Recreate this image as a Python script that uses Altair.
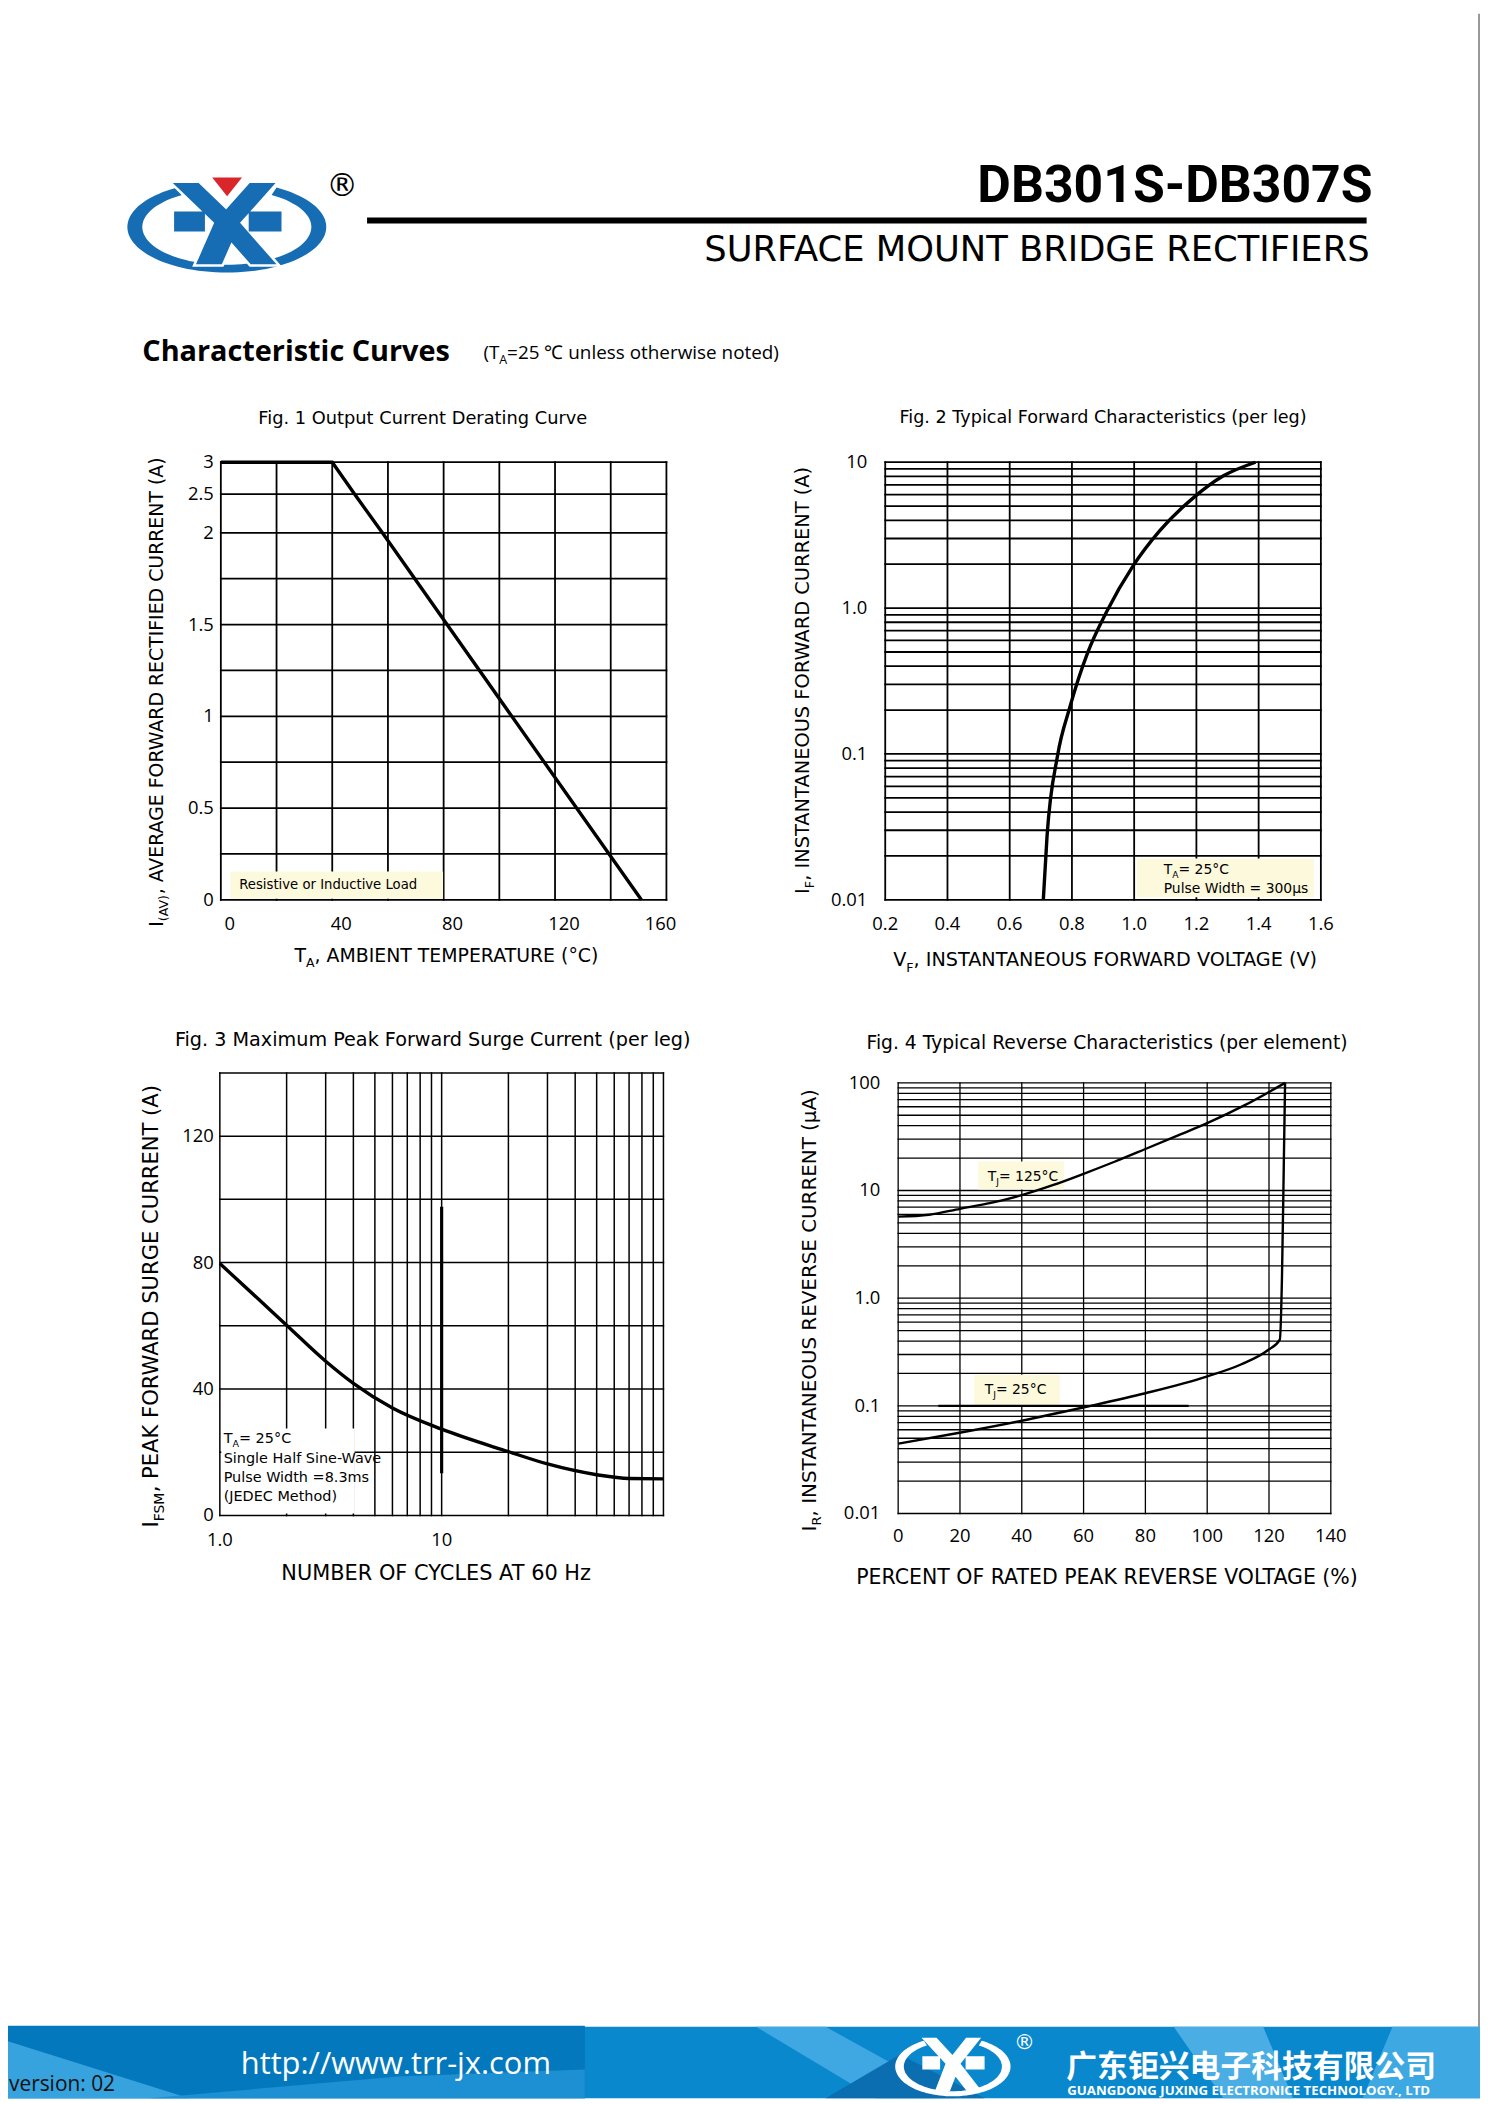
import math
import altair as alt
import pandas as pd

OFF = 8
FONT = "Open Sans"
DV = "DejaVu Sans"
CJK = "Noto Sans CJK SC"
ONE = pd.DataFrame({"k": [0]})

# ------------------------------------------------------------------ data
# Fig. 1  Output current derating curve
f1_temp = [0, 40, 48, 58, 151]
f1_current = [3, 3, 2.5, 2, 0]
f1_xgrid = [0, 20, 40, 60, 80, 100, 120, 140, 160]
f1_ygrid = [0, 0.25, 0.5, 0.75, 1, 1.25, 1.5, 1.75, 2, 2.5, 3]
f1_xticks = [0, 40, 80, 120, 160]
f1_xlabels = ["0", "40", "80", "120", "160"]
f1_yticks = [0, 0.5, 1, 1.5, 2, 2.5, 3]
f1_ylabels = ["0", "0.5", "1", "1.5", "2", "2.5", "3"]

# Fig. 2  Typical forward characteristics
f2_vf = [0.708, 0.72, 0.754, 0.793, 0.851, 0.911, 0.996, 1.081, 1.19, 1.287, 1.39]
f2_if = [0.01, 0.0273, 0.098, 0.208, 0.497, 0.94, 1.94, 3.37, 5.7, 8.07, 10]
f2_xgrid = [0.2, 0.4, 0.6, 0.8, 1.0, 1.2, 1.4, 1.6]
f2_xlabels = ["0.2", "0.4", "0.6", "0.8", "1.0", "1.2", "1.4", "1.6"]
f2_decades = [0.01, 0.1, 1]
f2_top = 10
f2_yticks = [0.01, 0.1, 1, 10]
f2_ylabels = ["0.01", "0.1", "1.0", "10"]

log_minor = [1, 2, 3, 4, 5, 6, 7, 8, 9]

# Fig. 3  Maximum peak forward surge current
f3_cycles = [1, 1.5, 2, 3, 4, 6, 10, 20, 30, 50, 70, 100]
f3_ifsm = [79.7, 68.3, 60.2, 48.8, 41.8, 34.0, 27.3, 20.2, 16.3, 12.9, 11.7, 11.6]
f3_xgrid = [1, 2, 3, 4, 5, 6, 7, 8, 9, 10, 20, 30, 40, 50, 60, 70, 80, 90, 100]
f3_ygrid = [0, 20, 40, 60, 80, 100, 120, 140]
f3_xticks = [1, 10]
f3_xlabels = ["1.0", "10"]
f3_yticks = [0, 40, 80, 120]
f3_ylabels = ["0", "40", "80", "120"]

# Fig. 4  Typical reverse characteristics
f4_pct_125 = [0, 10, 20, 30, 40, 50, 60, 70, 80, 90, 100, 112, 125.2]
f4_ir_125 = [5.72, 5.96, 6.76, 7.67, 9.06, 11.2, 14.3, 18.5, 24.3, 32.0, 42.2, 61.7, 100]
f4_pct_25 = [0, 20.3, 39.6, 60.2, 80, 99.8, 110.9, 119.6, 123.5, 124.2, 124.8, 125.2]
f4_ir_25 = [0.0446, 0.0565, 0.0723, 0.097, 0.131, 0.187, 0.242, 0.328, 0.412, 1.58, 18.4, 100]
f4_xgrid = [0, 20, 40, 60, 80, 100, 120, 140]
f4_xlabels = ["0", "20", "40", "60", "80", "100", "120", "140"]
f4_decades = [0.01, 0.1, 1, 10]
f4_top = 100
f4_yticks = [0.01, 0.1, 1, 10, 100]
f4_ylabels = ["0.01", "0.1", "1.0", "10", "100"]

# ------------------------------------------------------------------ helpers
W_OS = {' ': 0.26, 'A': 0.633, 'C': 0.631, 'E': 0.561, 'F': 0.518, 'I': 0.279, 'J': 0.267,
        'M': 0.903, 'R': 0.608, 'S': 0.536, 'T': 0.539, 'V': 0.595, '(': 0.297, ')': 0.297,
        ',': 0.25, '=': 0.571, '°': 0.418, '.': 0.27}
W_DV = {' ': 0.318, 'A': 0.684, 'C': 0.698, 'E': 0.632, 'F': 0.575, 'I': 0.295, 'J': 0.295,
        'M': 0.863, 'R': 0.695, 'S': 0.635, 'T': 0.611, 'V': 0.684, '(': 0.39, ')': 0.39,
        ',': 0.318, '=': 0.838, '°': 0.5, '.': 0.318}


def tw(s, size, font):
    tab = W_DV if font == DV else W_OS
    dflt = 0.636 if font == DV else 0.57
    return sum(tab.get(c, dflt) for c in s) * size


def pv(v):
    return alt.value(v - OFF)


def label(text, x, y, size, align="left", baseline="alphabetic", font=FONT,
          weight="normal", color="black", angle=0):
    kw = dict(text=text, align=align, baseline=baseline, font=font, fontSize=size,
              fontWeight=weight, color=color)
    if angle:
        kw["angle"] = angle
    return alt.Chart(ONE).mark_text(**kw).encode(x=pv(x), y=pv(y))


def rich(parts, size, x, y, angle=0, font=DV, color="black", base_dy=0.0,
         sub_scale=0.66, sub_drop=0.28):
    out = []
    adv = 0.0
    for text, sub in parts:
        s = size * sub_scale if sub else size
        dy = base_dy + (size * sub_drop if sub else 0)
        kw = dict(text=text, align="left", baseline="alphabetic", font=font, fontSize=s,
                  color=color, dx=adv, dy=dy)
        if angle:
            kw["angle"] = angle
        out.append(alt.Chart(ONE).mark_text(**kw).encode(x=x, y=y))
        adv += tw(text, s, font)
    return out


def xscale(dom, l, r, typ="linear"):
    kw = dict(type=typ, domain=dom, range=[l - OFF, r - OFF], nice=False)
    if typ == "linear":
        kw["zero"] = False
    return alt.Scale(**kw)


def yscale(dom, rng, typ="linear"):
    kw = dict(type=typ, domain=dom, range=[v - OFF for v in rng], nice=False)
    if typ == "linear":
        kw["zero"] = False
    return alt.Scale(**kw)


def grids(X, Y, xv, yv, xdom, ydom, width):
    vdf = pd.DataFrame({"v": xv, "lo": [ydom[0]] * len(xv), "hi": [ydom[-1]] * len(xv)})
    hdf = pd.DataFrame({"v": yv, "lo": [xdom[0]] * len(yv), "hi": [xdom[-1]] * len(yv)})
    v = alt.Chart(vdf).mark_rule(color="black", strokeWidth=width, strokeCap="square").encode(
        x=alt.X("v:Q", scale=X, axis=None), y=alt.Y("lo:Q", scale=Y, axis=None), y2="hi:Q")
    h = alt.Chart(hdf).mark_rule(color="black", strokeWidth=width, strokeCap="square").encode(
        y=alt.Y("v:Q", scale=Y, axis=None), x=alt.X("lo:Q", scale=X, axis=None), x2="hi:Q")
    return [v, h]


def xlabels(X, vals, labs, ypage, size=18.5, dx=0):
    df = pd.DataFrame({"v": vals, "t": labs})
    return alt.Chart(df).mark_text(font=FONT, fontSize=size, align="center", baseline="middle",
                                   dx=dx).encode(
        x=alt.X("v:Q", scale=X, axis=None), y=pv(ypage), text="t:N")


def ylabels(Y, vals, labs, xpage, size=18.5):
    df = pd.DataFrame({"v": vals, "t": labs})
    return alt.Chart(df).mark_text(font=FONT, fontSize=size, align="right", baseline="middle").encode(
        y=alt.Y("v:Q", scale=Y, axis=None), x=pv(xpage), text="t:N")


def curve(X, Y, xs_, ys_, width, interp="monotone"):
    df = pd.DataFrame({"x": xs_, "y": ys_})
    return alt.Chart(df).mark_line(color="black", strokeWidth=width, interpolate=interp).encode(
        x=alt.X("x:Q", scale=X, axis=None), y=alt.Y("y:Q", scale=Y, axis=None))


def dx_(X, v):
    return alt.XDatum(v, type="quantitative", scale=X, axis=None)


def dy_(Y, v):
    return alt.YDatum(v, type="quantitative", scale=Y, axis=None)


def box(X, Y, x0, x1, y0, y1, color="#fdf9dc"):
    return alt.Chart(ONE).mark_rect(color=color).encode(
        x=dx_(X, x0), x2=alt.X2Datum(x1), y=dy_(Y, y0), y2=alt.Y2Datum(y1))


def note(X, Y, x, y, text, size, font=DV):
    return alt.Chart(ONE).mark_text(text=text, font=font, fontSize=size, align="left",
                                    baseline="middle").encode(x=dx_(X, x), y=dy_(Y, y))


def logticks(decades, top):
    return [m * d for d in decades for m in log_minor] + [top]


# ------------------------------------------------------------------ shapes
def orient(pts):
    a = 0.0
    for i in range(len(pts)):
        x1, y1 = pts[i]
        x2, y2 = pts[(i + 1) % len(pts)]
        a += x1 * y2 - x2 * y1
    return pts if a > 0 else pts[::-1]


def path(pts):
    pts = orient(pts)
    return "M" + "L".join(f"{x - OFF:.1f},{y - OFF:.1f}" for x, y in pts) + "Z"


def shape(p, fill, stroke=None, sw=0):
    kw = dict(shape=p, size=4, filled=True, fill=fill, opacity=1, strokeWidth=sw)
    if stroke:
        kw["stroke"] = stroke
    return alt.Chart(ONE).mark_point(**kw).encode(x=alt.value(0), y=alt.value(0))


def arc(rx, ry, a0, a1, n=90):
    pts = []
    for i in range(n + 1):
        a = math.radians(a0 + (a1 - a0) * i / n)
        pts.append((rx * math.cos(a), ry * math.sin(a)))
    return pts


def logo(cx, cy, sx, sy, color, tri=None, sep=None):
    def tr(pts):
        return [(cx + x * sx, cy + y * sy) for x, y in pts]
    ring = path(tr(arc(100, 45.8, 300, 600) + arc(85, 38, 598, 302)))
    c = (0.3, -4.2)
    w = 13
    ends = [(-41.3, -44.2), (36.0, -44.2), (-18.0, 37.5), (37.0, 37.5)]
    parts = []
    for ex, ey in ends:
        parts.append(path(tr([(c[0] - w, c[1]), (c[0] + w, c[1]), (ex + w, ey), (ex - w, ey)])))
    parts.append(path(tr([(-53, -15.5), (-22, -15.5), (-22, 4.5), (-53, 4.5)])))
    parts.append(path(tr([(22, -15.5), (55, -15.5), (55, 4.5), (22, 4.5)])))
    xs = " ".join(parts)
    out = [shape(ring, color)]
    if sep:
        out.append(shape(xs, sep, stroke=sep, sw=5))
    out.append(shape(xs, color))
    if tri:
        out.append(shape(path(tr([(-14.7, -49.8), (15.3, -49.8), (0.3, -30.8)])), tri))
    return out


# ------------------------------------------------------------------ header
header = []
header += logo(228, 222.5, 1.0, 1.0, "#176db4", tri="#d9262b", sep="white")
header.append(label("®", 344, 181, 32, align="center", baseline="middle", font=DV))
header.append(label("DB301S-DB307S", 1380, 197, 52, align="right", font="Roboto", weight="bold"))
header.append(alt.Chart(ONE).mark_rule(color="black", strokeWidth=6).encode(
    x=pv(369), x2=pv(1374), y=pv(216)))
header.append(label("SURFACE MOUNT BRIDGE RECTIFIERS", 1377, 257, 35.5, align="right", font=DV))
header.append(label("Characteristic Curves", 143, 357, 29, weight="bold"))
header += rich([("(T", False), ("A", True), ("=25 ℃ unless otherwise noted)", False)], 19,
               pv(486), pv(355), font=FONT)
header.append(alt.Chart(ONE).mark_rule(color="#777777", strokeWidth=1.5).encode(
    x=pv(1487), y=pv(8), y2=pv(2032)))

# ------------------------------------------------------------------ Fig. 1
X1 = xscale([0, 160], 222, 670)
Y1 = yscale([0, 2, 2.5, 3], [899, 530, 491, 459])
fig1 = grids(X1, Y1, f1_xgrid, f1_ygrid, [0, 160], [0, 3], 1.8)
fig1.append(box(X1, Y1, 3.4, 79.8, 0.006, 0.155))
fig1.append(note(X1, Y1, 6.6, 0.08, "Resistive or Inductive Load", 13.3))
fig1.append(curve(X1, Y1, f1_temp, f1_current, 3.4, "linear"))
fig1.append(xlabels(X1, f1_xticks[:4], f1_xlabels[:4], 923, dx=9))
fig1.append(xlabels(X1, f1_xticks[4:], f1_xlabels[4:], 923, dx=-6))
fig1.append(ylabels(Y1, f1_yticks, f1_ylabels, 215))
fig1.append(label("Fig. 1  Output Current Derating Curve", 425, 416, 17.9, align="center",
                  baseline="middle", font=DV))
fig1 += rich([("T", False), ("A", True), (", AMBIENT TEMPERATURE (°C)", False)], 19, pv(296), pv(961))
fig1 += rich([("I", False), ("(AV)", True), (" , AVERAGE FORWARD RECTIFIED CURRENT (A)", False)], 19,
             pv(164), pv(926), angle=270)
p1 = alt.layer(*fig1)

# ------------------------------------------------------------------ Fig. 2
X2 = xscale([0.2, 1.6], 890, 1328)
Y2 = yscale([0.01, 10], [899, 459], "log")
fig2 = grids(X2, Y2, f2_xgrid, logticks(f2_decades, f2_top), [0.2, 1.6], [0.01, 10], 1.8)
fig2.append(box(X2, Y2, 1.009, 1.578, 0.0104, 0.0192))
fig2 += rich([("T", False), ("A", True), (" = 25°C", False)], 14, dx_(X2, 1.095), dy_(Y2, 0.0163),
             base_dy=5.0)
fig2.append(note(X2, Y2, 1.095, 0.0118, "Pulse Width = 300μs", 14))
fig2.append(curve(X2, Y2, f2_vf, f2_if, 3.4))
fig2.append(xlabels(X2, f2_xgrid, f2_xlabels, 923))
fig2.append(ylabels(Y2, f2_yticks, f2_ylabels, 872))
fig2.append(label("Fig. 2 Typical Forward Characteristics (per leg)", 1109, 415, 17.7,
                  align="center", baseline="middle", font=DV))
fig2 += rich([("V", False), ("F", True), (", INSTANTANEOUS FORWARD VOLTAGE (V)", False)], 19.3,
             pv(898), pv(966))
fig2 += rich([("I", False), ("F", True), (", INSTANTANEOUS FORWARD CURRENT (A)", False)], 19.5,
             pv(813), pv(893), angle=270)
p2 = alt.layer(*fig2)

# ------------------------------------------------------------------ Fig. 3
X3 = xscale([1, 100], 221, 667, "log")
Y3 = yscale([0, 140], [1518, 1073])
fig3 = grids(X3, Y3, f3_xgrid, f3_ygrid, [1, 100], [0, 140], 1.5)
fig3.append(box(X3, Y3, 1.015, 4.05, 0.6, 27.5, color="white"))
fig3.append(alt.Chart(ONE).mark_rule(color="black", strokeWidth=3.2).encode(
    x=dx_(X3, 10), y=dy_(Y3, 13.4), y2=alt.Y2Datum(97.7)))
fig3.append(curve(X3, Y3, f3_cycles, f3_ifsm, 3.4))
fig3 += rich([("T", False), ("A", True), (" = 25°C", False)], 14.5, dx_(X3, 1.04), dy_(Y3, 24.5),
             base_dy=5.2)
fig3.append(note(X3, Y3, 1.04, 17.8, "Single Half Sine-Wave", 14.5))
fig3.append(note(X3, Y3, 1.04, 11.8, "Pulse Width =8.3ms", 14.5))
fig3.append(note(X3, Y3, 1.04, 5.9, "(JEDEC Method)", 14.5))
fig3.append(xlabels(X3, f3_xticks, f3_xlabels, 1543))
fig3.append(ylabels(Y3, f3_yticks, f3_ylabels, 215))
fig3.append(label("Fig. 3  Maximum Peak Forward Surge Current (per leg)", 435, 1040, 19.3,
                  align="center", baseline="middle", font=DV))
fig3.append(label("NUMBER OF CYCLES AT 60 Hz", 438.5, 1577, 21, align="center", baseline="middle",
                  font=DV))
fig3 += rich([("I", False), ("FSM", True), (", PEAK FORWARD SURGE CURRENT (A)", False)], 21.2,
             pv(159), pv(1530), angle=270)
p3 = alt.layer(*fig3)

# ------------------------------------------------------------------ Fig. 4
X4 = xscale([0, 140], 903, 1338)
Y4 = yscale([0.01, 100], [1516, 1083], "log")
fig4 = grids(X4, Y4, f4_xgrid, logticks(f4_decades, f4_top), [0, 140], [0.01, 100], 1.3)
fig4.append(box(X4, Y4, 25.9, 53.6, 10.2, 18.6))
fig4.append(box(X4, Y4, 24.6, 52.3, 0.102, 0.194))
fig4.append(alt.Chart(ONE).mark_rule(color="black", strokeWidth=2.2).encode(
    x=dx_(X4, 13), x2=alt.X2Datum(94), y=dy_(Y4, 0.1)))
fig4.append(curve(X4, Y4, f4_pct_125, f4_ir_125, 2.4))
fig4.append(curve(X4, Y4, f4_pct_25, f4_ir_25, 2.4))
fig4 += rich([("T", False), ("J", True), (" = 125°C", False)], 14, dx_(X4, 29), dy_(Y4, 13.6),
             base_dy=5.0)
fig4 += rich([("T", False), ("J", True), (" = 25°C", False)], 14, dx_(X4, 28), dy_(Y4, 0.142),
             base_dy=5.0)
fig4.append(xlabels(X4, f4_xgrid, f4_xlabels, 1539))
fig4.append(ylabels(Y4, f4_yticks, f4_ylabels, 885))
fig4.append(label("Fig. 4 Typical Reverse Characteristics (per element)", 1113, 1043, 18.8,
                  align="center", baseline="middle", font=DV))
fig4.append(label("PERCENT OF RATED PEAK REVERSE VOLTAGE (%)", 1113, 1581, 20.6,
                  align="center", baseline="middle", font=DV))
fig4 += rich([("I", False), ("R", True), (", INSTANTANEOUS REVERSE CURRENT (μA)", False)], 20,
             pv(820), pv(1534), angle=270)
p4 = alt.layer(*fig4)

# ------------------------------------------------------------------ footer
footer = []
footer.append(shape(path([(0, 2032), (1488, 2032), (1488, 2104), (0, 2104)]), "#0a88ce"))
footer.append(shape(path([(0, 2031), (588, 2031), (588, 2104), (0, 2104)]), "#0478bc"))
footer.append(shape(path([(0, 2044), (190, 2104), (0, 2104)]), "#36a2de"))
footer.append(shape(path([(150, 2104), (400, 2082), (588, 2075), (588, 2104)]), "#1d8fd3"))
footer.append(shape(path([(760, 2032), (830, 2032), (960, 2104), (880, 2104)]), "#3fa7e1"))
footer.append(shape(path([(830, 2104), (905, 2060), (990, 2104)]), "#0a6eb1"))
footer.append(shape(path([(1180, 2032), (1270, 2032), (1300, 2104), (1230, 2104)]), "#4aaee4"))
footer.append(shape(path([(1400, 2032), (1488, 2032), (1488, 2104), (1370, 2104)]), "#3ea8e2"))
footer.append(label("version: 02", 9, 2097, 21, color="#111111"))
footer.append(label("http://www.trr-jx.com", 242, 2080, 31, color="white"))
footer += logo(958, 2072, 0.58, 0.655, "white")
footer.append(label("®", 1030, 2048, 21, align="center", baseline="middle", font=DV,
                    color="white"))
footer.append(label("广东钜兴电子科技有限公司", 1072, 2083, 31, font=CJK, weight="bold", color="white"))
footer.append(label("GUANGDONG JUXING ELECTRONICE TECHNOLOGY., LTD", 1073, 2101, 13.3,
                    weight="bold", color="white"))

chart = alt.layer(*header, p1, p2, p3, p4, *footer).resolve_scale(
    x="independent", y="independent"
).properties(
    width=1480, height=2096, padding=0, background="white",
    autosize=alt.AutoSizeParams(type="none"),
).configure_view(stroke=None)

chart.save("out.html", embed_options={"renderer": "svg", "actions": False})
